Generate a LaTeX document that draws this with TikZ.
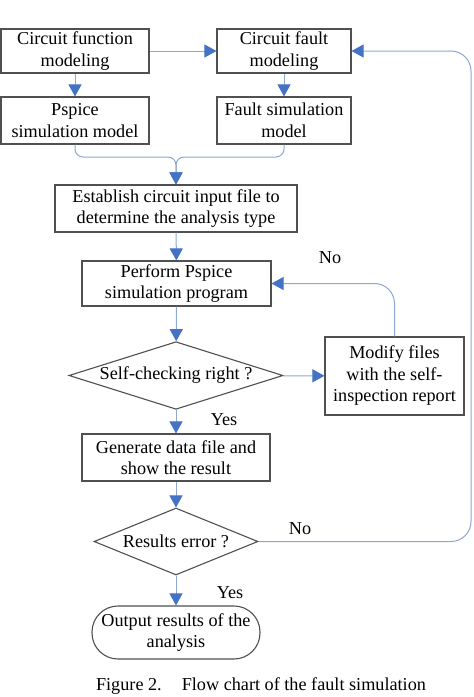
\documentclass[tikz,border=0pt]{standalone}
\usepackage{fontspec}
\setmainfont{Liberation Serif}
\usepackage{tikz}
\usetikzlibrary{positioning}
\usetikzlibrary{arrows.meta}
\usetikzlibrary{shapes.geometric}
\definecolor{linkblue}{HTML}{8EA6D2}
\definecolor{tipblue}{HTML}{4472C4}
\definecolor{boxgray}{HTML}{505050}

\begin{document}
\begin{tikzpicture}[x=1pt, y=-1pt]
    \tikzstyle{every node}=[font=\fontsize{18.2}{21.5}\selectfont]
    \tikzstyle{process}=[rectangle, draw=boxgray, line width=1.1pt,
            fill=white, align=center, inner sep=0pt]
    \tikzstyle{decision}=[diamond, draw=boxgray, line width=1.1pt,
            fill=white, align=center, inner sep=0pt, aspect=3]
    \tikzstyle{terminal}=[rectangle, rounded corners=26pt, draw=boxgray,
            line width=1.1pt, fill=white, align=center, inner sep=0pt]
    \tikzstyle{link}=[linkblue, line width=1pt,
            -{Triangle[length=12pt, width=13pt, color=tipblue]}]

        \useasboundingbox (0,0) rectangle (474,697);

        % boxes of the flow chart
        \node[process, minimum width=148pt, minimum height=44pt]
            (funcmodel) at (75,51) {Circuit function\\modeling};
        \node[process, minimum width=134pt, minimum height=44pt]
            (faultmodel) at (284,51) {Circuit fault\\modeling};
        \node[process, minimum width=148pt, minimum height=47pt]
            (pspicemodel) at (75,120.5) {Pspice\\simulation model};
        \node[process, minimum width=134pt, minimum height=47pt]
            (faultsim) at (284,120.5) {Fault simulation\\model};
        \node[process, minimum width=242pt, minimum height=47pt]
            (inputfile) at (176,208.5)
            {Establish circuit input file to\\determine the analysis type};
        \node[process, minimum width=189pt, minimum height=45pt]
            (perform) at (176.5,283.5) {Perform Pspice\\simulation program};
        \node[decision, minimum width=214pt, minimum height=67pt]
            (selfcheck) at (176,375.5) {Self-checking right ?};
        \node[process, minimum width=139pt, minimum height=78pt]
            (modify) at (394.5,376)
            {Modify files\\with the self-\\inspection report};
        \node[process, minimum width=188pt, minimum height=47pt]
            (datafile) at (176,457.5) {Generate data file and\\show the result};
        \node[decision, minimum width=164pt, minimum height=67pt]
            (reserror) at (176,541.5) {Results error ?};
        \node[terminal, minimum width=168pt, minimum height=53pt]
            (output) at (176,632.5) {Output results of the\\analysis};

        \coordinate (merge) at (176,157);
        \coordinate (back) at (471,300);

        % connectors
        \draw[link] (funcmodel) -- (faultmodel);
        \draw[link] (funcmodel) -- (pspicemodel);
        \draw[link] (faultmodel) -- (faultsim);
        \draw[link, rounded corners=8pt] (pspicemodel.south) |- (merge)
            -- (inputfile.north);
        \draw[link, rounded corners=8pt] (faultsim.south) |- (merge)
            -- (inputfile.north);
        \draw[link] (inputfile) -- (perform);
        \draw[link] (perform) -- (selfcheck);
        \draw[link] (selfcheck) -- (modify);
        \draw[link, rounded corners=20pt] (modify.north) |- (perform.east);
        \draw[link] (selfcheck) -- (datafile);
        \draw[link] (datafile) -- (reserror);
        \draw[link] (reserror) -- (output);
        \draw[link, rounded corners=20pt] (reserror.east) -| (back)
            |- (faultmodel.east);

        % branch labels
        \node (no1) at (330,258) {No};
        \node (yes1) at (224,420) {Yes};
        \node (no2) at (300,529) {No};
        \node (yes2) at (230,593) {Yes};

        \node (caption) at (261,686)
        {Figure 2.\hspace{1.1em}Flow chart of the fault simulation};

    \end{tikzpicture}
\end{document}
